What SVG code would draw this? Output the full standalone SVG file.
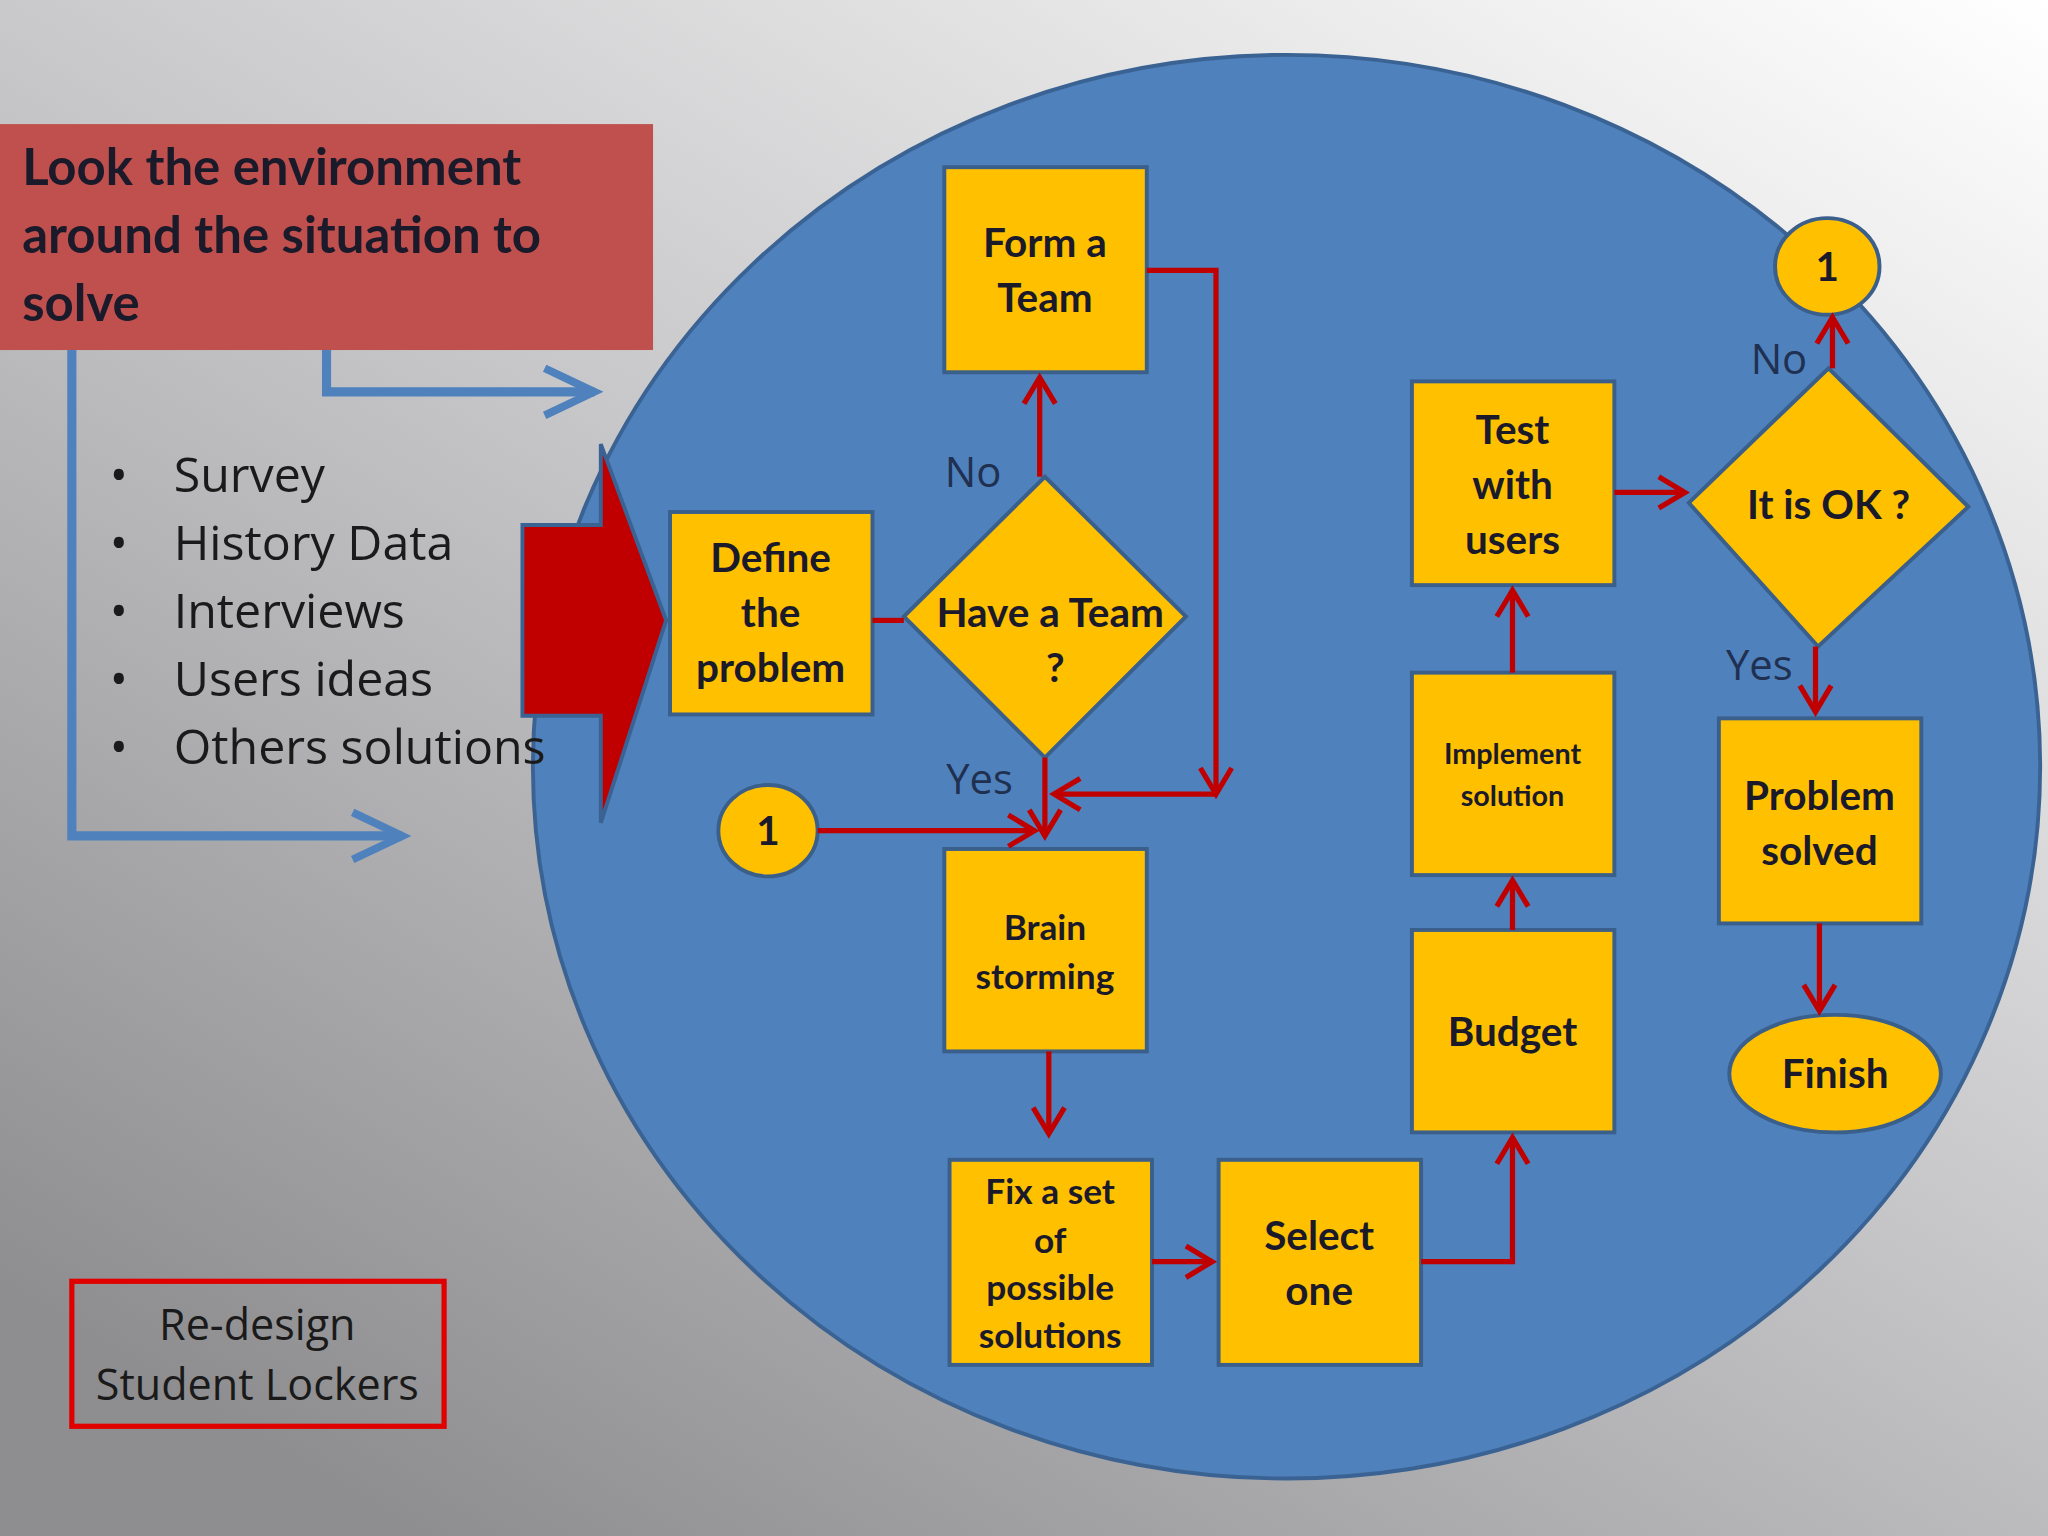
<svg xmlns="http://www.w3.org/2000/svg" width="2048" height="1536" viewBox="0 0 2048 1536">
<defs>
<linearGradient id="bg" x1="1" y1="0" x2="0.2" y2="1">
<stop offset="0" stop-color="#ffffff"/><stop offset="0.5" stop-color="#c8c8ca"/><stop offset="1" stop-color="#8e8e90"/>
</linearGradient>
<marker id="ra" viewBox="0 0 20 20" refX="18" refY="10" markerWidth="20" markerHeight="20" markerUnits="userSpaceOnUse" orient="auto" overflow="visible">
<path d="M-2,-2 L18,10 L-2,22" fill="none" stroke="#C00000" stroke-width="4"/>
</marker>
<marker id="ba" viewBox="0 0 20 20" refX="18" refY="10" markerWidth="20" markerHeight="20" markerUnits="userSpaceOnUse" orient="auto" overflow="visible">
<path d="M-20,-8 L18,10 L-20,28" fill="none" stroke="#4F81BD" stroke-width="6"/>
</marker>
</defs>
<style>
.box{fill:#FFC000;stroke:#3A5F8A;stroke-width:3}
.t{font-family:Lato,"Open Sans",sans-serif;font-weight:bold;fill:#1a1a2a;text-anchor:middle}
.l{font-family:"Open Sans",sans-serif;fill:#1F3050;font-size:32px;text-anchor:middle}
.c{fill:none;stroke:#C00000;stroke-width:4;marker-end:url(#ra)}
.b{fill:none;stroke:#4F81BD;stroke-width:7;marker-end:url(#ba)}
</style>
<rect width="2048" height="1536" fill="url(#bg)"/>
<g transform="scale(1.30612)">
<ellipse cx="985" cy="587" rx="577" ry="545" fill="#4F81BD" stroke="#3A6394" stroke-width="3"/>
<g id="title"><rect x="0" y="95" width="500" height="173" fill="#C0504D"/>
<text class="t" style="text-anchor:start" font-size="39" x="17" y="142">Look the environment</text>
<text class="t" style="text-anchor:start" font-size="39" x="17" y="194">around the situation to</text>
<text class="t" style="text-anchor:start" font-size="39" x="17" y="246">solve</text></g>
<g id="list" font-family="Open Sans,sans-serif" font-size="37" fill="#1a1a1a">
<text x="84" y="377">•</text><text x="133" y="377">Survey</text>
<text x="84" y="429">•</text><text x="133" y="429">History Data</text>
<text x="84" y="481">•</text><text x="133" y="481">Interviews</text>
<text x="84" y="533">•</text><text x="133" y="533">Users ideas</text>
<text x="84" y="585">•</text><text x="133" y="585">Others solutions</text></g>
<g id="bigarrow"><path d="M400,402 H460 V340 L510,475 L460,630 V548 H400 Z" fill="#C00000" stroke="#3A6394" stroke-width="3"/></g>
<g id="define"><rect class="box" x="513" y="392" width="155" height="155"/><text class="t" font-size="31" x="590" y="438">Define</text><text class="t" font-size="31" x="590" y="480">the</text><text class="t" font-size="31" x="590" y="522">problem</text></g>
<g id="form"><rect class="box" x="723" y="128" width="155" height="157"/><text class="t" font-size="31" x="800" y="197">Form a</text><text class="t" font-size="31" x="800" y="239">Team</text></g>
<g id="have"><path class="box" d="M800,365 L908,472 L800,580 L692,472 Z"/><text class="t" font-size="31" x="804" y="480">Have a Team</text><text class="t" font-size="31" x="808" y="522">?</text></g>
<g id="test"><rect class="box" x="1081" y="292" width="155" height="156"/><text class="t" font-size="31" x="1158" y="340">Test</text><text class="t" font-size="31" x="1158" y="382">with</text><text class="t" font-size="31" x="1158" y="424">users</text></g>
<g id="impl"><rect class="box" x="1081" y="515" width="155" height="155"/><text class="t" font-size="22" x="1158" y="585">Implement</text><text class="t" font-size="22" x="1158" y="617">solution</text></g>
<g id="budget"><rect class="box" x="1081" y="712" width="155" height="155"/><text class="t" font-size="31" x="1158" y="801">Budget</text></g>
<g id="brain"><rect class="box" x="723" y="650" width="155" height="155"/><text class="t" font-size="27" x="800" y="720">Brain</text><text class="t" font-size="27" x="800" y="757">storming</text></g>
<g id="fix"><rect class="box" x="727" y="888" width="155" height="157"/><text class="t" font-size="27" x="804" y="922">Fix a set</text><text class="t" font-size="27" x="804" y="959">of</text><text class="t" font-size="27" x="804" y="995">possible</text><text class="t" font-size="27" x="804" y="1032">solutions</text></g>
<g id="select"><rect class="box" x="933" y="888" width="155" height="157"/><text class="t" font-size="31" x="1010" y="957">Select</text><text class="t" font-size="31" x="1010" y="999">one</text></g>
<g id="ok"><path class="box" d="M1400,282 L1507,388 L1392,495 L1293,385 Z"/><text class="t" font-size="31" x="1400" y="397">It is OK ?</text></g>
<g id="solved"><rect class="box" x="1316" y="550" width="155" height="157"/><text class="t" font-size="31" x="1393" y="620">Problem</text><text class="t" font-size="31" x="1393" y="662">solved</text></g>
<g id="finish"><ellipse class="box" cx="1405" cy="822" rx="81" ry="45"/><text class="t" font-size="31" x="1405" y="833">Finish</text></g>
<g id="c1a"><ellipse class="box" cx="1399" cy="204" rx="40" ry="37"/><text class="t" font-size="31" x="1399" y="215">1</text></g>
<g id="c1b"><ellipse class="box" cx="588" cy="636" rx="38" ry="35"/><text class="t" font-size="31" x="588" y="647">1</text></g>
<g id="connectors">
<path class="b" d="M250,268 V300 H455"/>
<path class="b" d="M55,268 V640 H308"/>
<path d="M668,475 H692" stroke="#C00000" stroke-width="4"/>
<path class="c" d="M796,365 V289"/>
<path class="c" d="M878,207 H931 V608"/>
<path class="c" d="M931,608 H807"/>
<path class="c" d="M800,580 V640"/>
<path class="c" d="M626,636 H792"/>
<path class="c" d="M803,805 V868"/>
<path class="c" d="M882,966 H928"/>
<path class="c" d="M1088,966 H1158 V871"/>
<path class="c" d="M1158,712 V674"/>
<path class="c" d="M1158,515 V452"/>
<path class="c" d="M1236,377 H1290"/>
<path class="c" d="M1403,282 V243"/>
<path class="c" d="M1390,495 V545"/>
<path class="c" d="M1393,707 V774"/>
</g>
<g id="labels"><text class="l" x="745" y="373">No</text><text class="l" x="750" y="608">Yes</text><text class="l" x="1362" y="286">No</text><text class="l" x="1347" y="521">Yes</text></g>
<g id="redesign"><rect x="55" y="981" width="285" height="111" fill="none" stroke="#E00000" stroke-width="4"/>
<text font-family="Open Sans,sans-serif" font-size="33" fill="#1a1a1a" text-anchor="middle" x="197" y="1026">Re-design</text>
<text font-family="Open Sans,sans-serif" font-size="33" fill="#1a1a1a" text-anchor="middle" x="197" y="1072">Student Lockers</text></g>
</g>
</svg>
